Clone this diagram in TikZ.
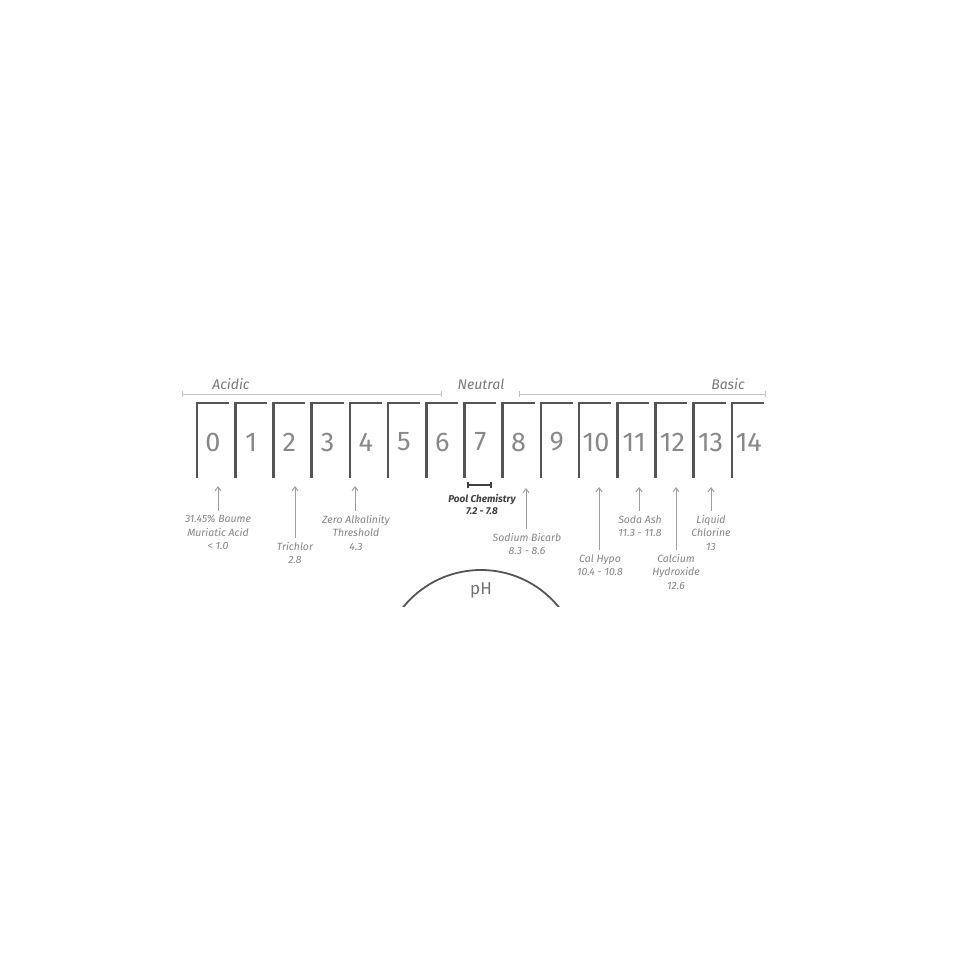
\documentclass[tikz,border=0pt]{standalone}
\usepackage{fontspec}
\setmainfont{Fira Sans}
\usetikzlibrary{arrows.meta}
\definecolor{boxc}{HTML}{555555}
\definecolor{digc}{HTML}{888888}
\definecolor{labc}{HTML}{858585}
\definecolor{brc}{HTML}{C4C4C4}
\tikzset{
  boxline/.style={draw=boxc, line width=2.6pt, line cap=butt, line join=miter},
  digit/.style={text=digc, font=\fontsize{27}{27}\selectfont\addfontfeature{Numbers=Lining}, inner sep=0pt, anchor=center},
  toplab/.style={text=labc!90!black, font=\fontsize{14}{14}\selectfont\itshape, inner sep=0pt},
  lab/.style={text=labc, font=\fontsize{10.5}{13.5}\selectfont\itshape, align=center, inner sep=0pt, anchor=north},
  bracketline/.style={draw=brc, line width=1pt},
  uparrow/.style={draw=gray!75, line width=1pt, shorten <=4pt, -{Straight Barb[length=4pt,width=6pt]}},
}
\begin{document}
\begin{tikzpicture}[x=1pt,y=-1pt]
\useasboundingbox (0,0) rectangle (960,960);
% boxes and digits
\foreach \i in {0,...,14}{
  \pgfmathsetmacro{\xl}{197+38.2*\i}
  \draw[boxline] (\xl,478) -- (\xl,403) -- (\xl+32,403);
  \pgfmathsetmacro{\xc}{\i<10 ? \xl+16 : \xl+17}
  \node[digit] (d\i) at (\xc,442) {\i};
}
% range brackets
\coordinate (ac1) at (182,394); \coordinate (ac2) at (441,394);
\draw[bracketline] (ac1) -- (ac2);
\draw[bracketline] ([yshift=-3]ac1) -- ([yshift=3]ac1);
\draw[bracketline] ([yshift=-3]ac2) -- ([yshift=3]ac2);
\coordinate (ba1) at (519,394); \coordinate (ba2) at (765,394);
\draw[bracketline] (ba1) -- (ba2);
\draw[bracketline] ([yshift=-3]ba1) -- ([yshift=3]ba1);
\draw[bracketline] ([yshift=-3]ba2) -- ([yshift=3]ba2);
\node[toplab] (acidic) at (231,384) {Acidic};
\node[toplab] (neutral) at (481,384) {Neutral};
\node[toplab] (basic) at (728,384) {Basic};
% labels
\node[lab] (mur) at (218,515) {31.45\% Baume\\Muriatic Acid\\< 1.0};
\node[lab] (tri) at (295,542) {Trichlor\\2.8};
\node[lab] (zero) at (356,515) {Zero Alkalinity\\Threshold\\4.3};
\node[lab, text=black!75, font=\fontsize{10}{12.5}\selectfont\itshape\bfseries] (pool) at (482,494) {Pool Chemistry\\7.2 - 7.8};
\node[lab] (sod) at (527,533) {Sodium Bicarb\\8.3 - 8.6};
\node[lab] (cal) at (600,554) {Cal Hypo\\10.4 - 10.8};
\node[lab] (soda) at (640,515) {Soda Ash\\11.3 - 11.8};
\node[lab] (calh) at (676,554) {Calcium\\Hydroxide\\12.6};
\node[lab] (liq) at (711,515) {Liquid\\Chlorine\\13};
% arrow tips
\coordinate (tmur) at (218,486);
\coordinate (ttri) at (295,486);
\coordinate (tzero) at (355,486);
\coordinate (tsod) at (526,488);
\coordinate (tcal) at (599,487);
\coordinate (tsoda) at (639,487);
\coordinate (tcalh) at (676,487);
\coordinate (tliq) at (711,487);
\draw[uparrow] (mur.north -| tmur) -- (tmur);
\draw[uparrow] (tri.north -| ttri) -- (ttri);
\draw[uparrow] (zero.north -| tzero) -- (tzero);
\draw[uparrow] (sod.north -| tsod) -- (tsod);
\draw[uparrow] (cal.north -| tcal) -- (tcal);
\draw[uparrow] (soda.north -| tsoda) -- (tsoda);
\draw[uparrow] (calh.north -| tcalh) -- (tcalh);
\draw[uparrow] (liq.north -| tliq) -- (tliq);
% pool chemistry range bar
\coordinate (p1) at (468,485); \coordinate (p2) at (491,485);
\draw[black!75, line width=1.2pt] (p1) -- (p2);
\draw[black!75, line width=1.2pt] ([yshift=-3]p1) -- ([yshift=3]p1);
\draw[black!75, line width=1.2pt] ([yshift=-3]p2) -- ([yshift=3]p2);
% pH arc
\begin{scope}
\clip (380,560) rectangle (580,606);
\draw[boxc, line width=1.8pt] (481,670) circle[radius=100];
\end{scope}
\node[text=labc!85!black, font=\fontsize{17}{17}\selectfont, inner sep=0pt] (ph) at (481,590) {pH};
\end{tikzpicture}
\end{document}
